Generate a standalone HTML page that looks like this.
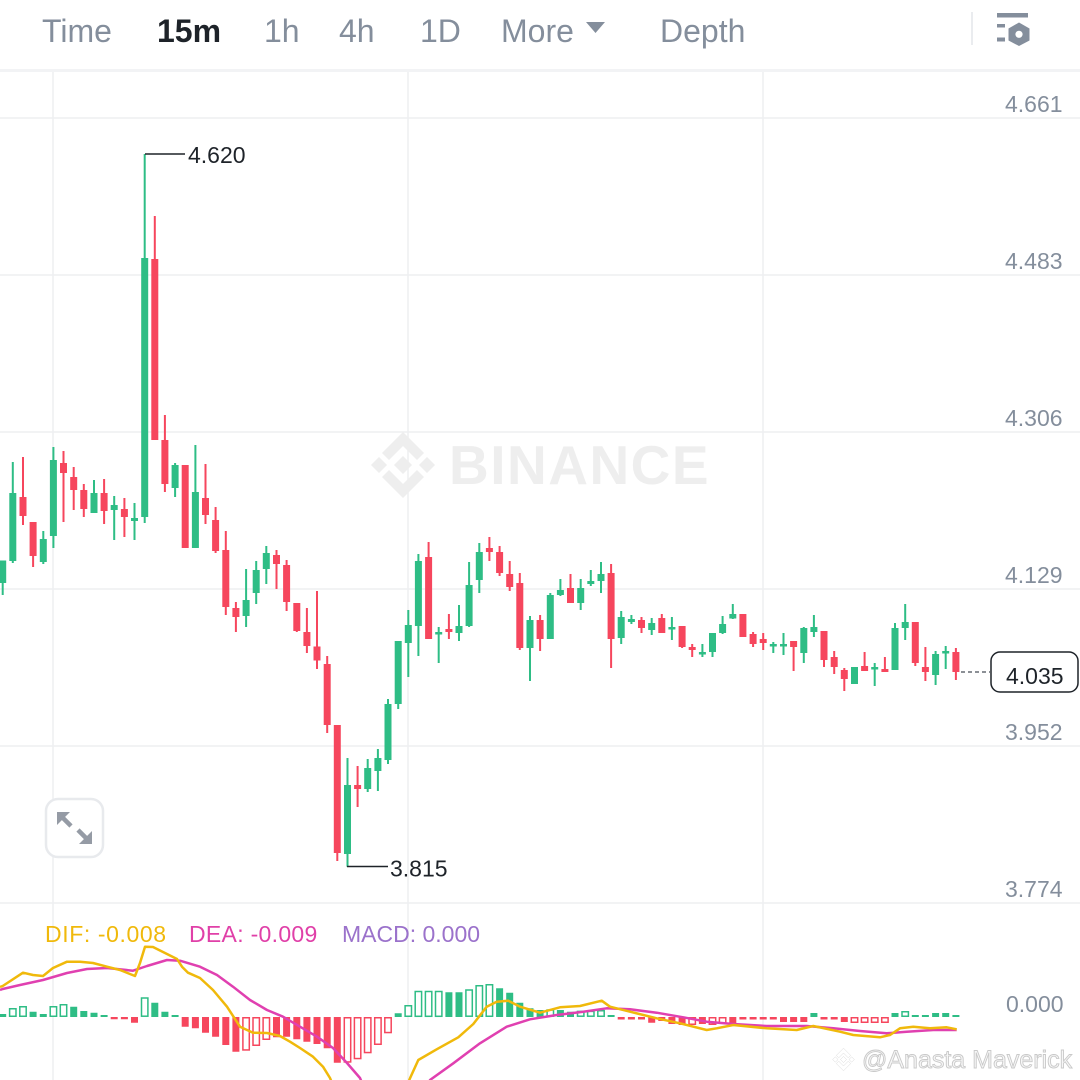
<!DOCTYPE html>
<html>
<head>
<meta charset="utf-8">
<style>
html,body{margin:0;padding:0;background:#fff;}
body{width:1080px;height:1080px;overflow:hidden;}
svg{display:block;}
text{font-family:"Liberation Sans",sans-serif;}
</style>
</head>
<body>
<svg width="1080" height="1080" viewBox="0 0 1080 1080" xmlns="http://www.w3.org/2000/svg">
<rect width="1080" height="1080" fill="#ffffff"/>

<!-- Tabs -->
<g font-size="32" fill="#848e9c">
<text x="42" y="42">Time</text>
<text x="157" y="42" font-weight="bold" fill="#1e2329">15m</text>
<text x="264" y="42">1h</text>
<text x="339" y="42">4h</text>
<text x="420" y="42">1D</text>
<text x="501" y="42">More</text>
<text x="660" y="42">Depth</text>
</g>
<polygon points="586,22 605,22 595.5,33" fill="#848e9c"/>
<rect x="971" y="12" width="2" height="33" fill="#eaecef"/>
<g fill="#848e9c">
<rect x="997" y="13" width="31" height="4.5"/>
<rect x="997" y="24" width="8" height="3.5"/>
<rect x="997" y="37.5" width="8" height="4"/>
<polygon points="1019,22.5 1029.5,28.5 1029.5,40.5 1019,46 1008.5,40.5 1008.5,28.5"/>
</g>
<circle cx="1019" cy="34.3" r="3.6" fill="#fff"/>

<!-- separator -->
<rect x="0" y="69" width="1080" height="3" fill="#f2f3f5"/>

<!-- grid -->
<g stroke="#eeeff1" stroke-width="1.5">
<line x1="0" y1="118" x2="1080" y2="118"/>
<line x1="0" y1="275" x2="1080" y2="275"/>
<line x1="0" y1="432" x2="1080" y2="432"/>
<line x1="0" y1="589" x2="1080" y2="589"/>
<line x1="0" y1="746" x2="1080" y2="746"/>
<line x1="0" y1="903" x2="1080" y2="903"/>
<line x1="53" y1="72" x2="53" y2="1080"/>
<line x1="408" y1="72" x2="408" y2="1080"/>
<line x1="763" y1="72" x2="763" y2="1080"/>
</g>

<!-- BINANCE watermark -->
<g fill="#eeeeee" transform="translate(403,465)">
<polygon points="0,-9 9,0 0,9 -9,0"/>
<polygon points="-24,-8 -16,0 -24,8 -32,0"/>
<polygon points="24,-8 32,0 24,8 16,0"/>
<polygon points="0,-33 21,-12 14,-5 0,-19 -14,-5 -21,-12"/>
<polygon points="0,33 21,12 14,5 0,19 -14,5 -21,12"/>
</g>
<text x="449" y="484" font-size="55" font-weight="bold" fill="#eeeeee" letter-spacing="1.5">BINANCE</text>

<!-- price axis labels -->
<g font-size="23" fill="#848e9c">
<text x="1005" y="112">4.661</text>
<text x="1005" y="269">4.483</text>
<text x="1005" y="426">4.306</text>
<text x="1005" y="583">4.129</text>
<text x="1005" y="740">3.952</text>
<text x="1005" y="897">3.774</text>
<text x="1006" y="1012">0.000</text>
</g>

<!-- candles: wicks -->
<path fill="none" stroke="#2ebd85" stroke-width="2" d="M2.7 560.5V595M12.8 462V563M43.3 531V564M53.4 447V548M94 480V513M114.2 496V540M134.5 503V540M144.7 154V523M175.1 463V497M195.4 445V548M246.1 569V627M256.2 561V604M266.3 546V584M347.5 758V866.7M367.7 759V792M377.9 749V791M388 699V764M398.2 641V709M408.3 610V677M418.4 554V656M438.7 627V663M459 605V641M469.1 562V627M479.3 543V593M530 616V681M550.3 593V639M560.4 579V596M580.7 579V610M590.8 570V586M601 562V593M621.2 611V644M631.4 615V624M651.7 618V635M671.9 617V640M702.4 644V657M712.5 633V657M722.6 616V634M732.8 604V619M773.3 642V653M783.5 633V655M803.8 627V663M813.9 615V637M854.5 667V684M874.7 663V686M895 623V670M905.2 604V640M935.6 651V685M945.7 646V669"/>
<path fill="none" stroke="#2ebd85" stroke-width="7" d="M2.7 560.5V583M12.8 493V561M43.3 539V562M53.4 460V536M94 493V513M114.2 505V510M134.5 518V521M144.7 258V517M175.1 465V488M195.4 492V548M246.1 600V616M256.2 570V593M266.3 553V569M347.5 785V854M367.7 768V789M377.9 758V771M388 704V760M398.2 641V704M408.3 625V643M418.4 561V626M438.7 632V634.5M459 626V633M469.1 585V626M479.3 552V580M530 620V648M550.3 595V639M560.4 590V595M580.7 588V603M590.8 581V584M601 574V581M621.2 617V638M631.4 619V622M651.7 623V630M671.9 627V629.5M702.4 652V654.5M712.5 633V652M722.6 624V633M732.8 614V618.5M773.3 644V646.5M783.5 644V646.5M803.8 628V653M813.9 627V632M854.5 667V684M874.7 667V669.5M895 628V670M905.2 622V628M935.6 654V675M945.7 651V653.5"/>
<path fill="none" stroke="#f6465d" stroke-width="2" d="M23 457V525M33.1 522V567M63.5 451V522M73.7 467V510M83.8 484V517M104.1 479V524M124.4 498V537M154.8 216V440M164.9 415V492M185.2 465V548M205.5 464V524M215.6 507V553M225.8 531V615M235.9 602V632M276.5 550V589M286.6 560V611M296.8 603V632M306.9 608V653M317 591V669M327.2 656V733M337.3 725V861M357.6 766V807M428.6 542V639M448.9 614V639M489.4 537V561M499.6 546V576M509.7 561V591M519.8 573V650M540.1 615V651M570.5 574V603M611.1 564V668M641.5 617V633M661.8 614V633M682.1 626V648M692.2 644V657M742.9 614V637M753.1 632V647M763.2 633V650M793.6 641V671M824 631V667M834.2 651V674M844.3 668V691M864.6 652V671M884.9 657V672M915.3 622V666M925.4 647V681M955.9 648V680"/>
<path fill="none" stroke="#f6465d" stroke-width="7" d="M23 497V516M33.1 522V556M63.5 463V473M73.7 477V490M83.8 490V509M104.1 493V511M124.4 509V517M154.8 259V440M164.9 440V484M185.2 465V548M205.5 498V515M215.6 520V551M225.8 550V607M235.9 608V617M276.5 555V564M286.6 565V602M296.8 603V631M306.9 632V646M317 646.5V660.5M327.2 664V725M337.3 725V853M357.6 785V789M428.6 557V639M448.9 629V632M489.4 548V552M499.6 552V573M509.7 574V587M519.8 583V648M540.1 620V639M570.5 588V603M611.1 573V639M641.5 620V628M661.8 618V633M682.1 626V647M692.2 647V650M742.9 614V637M753.1 634V644M763.2 639V643M793.6 641V647M824 631V660M834.2 657V667M844.3 670V679M864.6 666V671M884.9 669V672M915.3 622V663M925.4 667V672M955.9 652V672"/>

<!-- high / low markers -->
<line x1="145" y1="154" x2="185" y2="154" stroke="#1e2329" stroke-width="1.5"/>
<text x="188" y="163" font-size="23" fill="#1e2329">4.620</text>
<line x1="347" y1="866.5" x2="388" y2="866.5" stroke="#1e2329" stroke-width="1.5"/>
<text x="390" y="876.5" font-size="23" fill="#1e2329">3.815</text>

<!-- last price -->
<line x1="961" y1="672" x2="990" y2="672" stroke="#474d57" stroke-width="1.3" stroke-dasharray="4,3"/>
<rect x="991" y="652" width="87" height="40" rx="9" ry="9" fill="#fff" stroke="#1e2329" stroke-width="1.5"/>
<text x="1006" y="684" font-size="23" fill="#1e2329">4.035</text>

<!-- expand button -->
<rect x="46" y="799" width="57" height="58" rx="12" ry="12" fill="#fff" stroke="#e8eaed" stroke-width="2.5"/>
<g fill="#959ba5" stroke="#959ba5">
<polygon points="57,812 70,812 57,825" stroke="none"/>
<line x1="61" y1="816" x2="71" y2="826" stroke-width="4.5"/>
<polygon points="92,844 79,844 92,831" stroke="none"/>
<line x1="88" y1="840" x2="78" y2="830" stroke-width="4.5"/>
</g>

<!-- MACD legend -->
<g font-size="23">
<text x="45" y="942" fill="#f0b90b" letter-spacing="0.6">DIF: -0.008</text>
<text x="189" y="942" fill="#e040a8" letter-spacing="0.3">DEA: -0.009</text>
<text x="342" y="942" fill="#9b72cb">MACD: 0.000</text>
</g>

<!-- MACD histogram -->
<path fill="none" stroke="#2ebd85" stroke-width="7" d="M2.7 1014V1017M33.1 1011.7V1017M43.3 1014V1017M73.7 1006.7V1017M83.8 1011V1017M94 1012.7V1017M104.1 1015V1017M154.8 1002.7V1017M164.9 1011.7V1017M175.1 1015V1017M398.2 1013.3V1017M448.9 992.3V1017M459 992.3V1017M499.6 988.3V1017M509.7 992.7V1017M519.8 1002.7V1017M530 1008.3V1017M540.1 1010V1017M560.4 1010V1017M570.5 1011.7V1017M611.1 1015V1017M813.9 1013V1017M895 1013V1017M915.3 1015V1017M925.4 1015V1017M935.6 1013V1017M945.7 1013V1017M955.9 1015V1017"/>
<g fill="#fff" stroke="#2ebd85" stroke-width="1.5">
<rect x="9.6" y="1008.75" width="6.4" height="7.5"/>
<rect x="19.8" y="1006.75" width="6.4" height="9.5"/>
<rect x="50.2" y="1006.75" width="6.4" height="9.5"/>
<rect x="60.3" y="1004.75" width="6.4" height="11.5"/>
<rect x="141.5" y="998" width="6.4" height="18.2"/>
<rect x="405.1" y="1005.75" width="6.4" height="10.5"/>
<rect x="415.2" y="991.5" width="6.4" height="24.8"/>
<rect x="425.4" y="991.5" width="6.4" height="24.8"/>
<rect x="435.5" y="991.5" width="6.4" height="24.8"/>
<rect x="465.9" y="990" width="6.4" height="26.2"/>
<rect x="476.1" y="985.75" width="6.4" height="30.5"/>
<rect x="486.2" y="984.75" width="6.4" height="31.5"/>
<rect x="547.1" y="1010" width="6.4" height="6.2"/>
<rect x="577.5" y="1011.4" width="6.4" height="4.8"/>
<rect x="587.6" y="1011.4" width="6.4" height="4.8"/>
<rect x="597.8" y="1010.75" width="6.4" height="5.5"/>
<rect x="902" y="1011.75" width="6.4" height="4.5"/>
</g>
<path fill="none" stroke="#f6465d" stroke-width="7" d="M114.2 1017V1019.3M124.4 1017V1019.3M134.5 1017V1022.7M185.2 1017V1026.7M195.4 1017V1028.3M205.5 1017V1032.7M215.6 1017V1036.7M225.8 1017V1045M235.9 1017V1051.7M276.5 1017V1037.3M286.6 1017V1036.7M296.8 1017V1039.3M306.9 1017V1041.7M317 1017V1044M327.2 1017V1048.3M337.3 1017V1062.7M621.2 1017V1019.5M631.4 1017V1019.5M641.5 1017V1019.5M651.7 1017V1022.7M661.8 1017V1021M671.9 1017V1024M682.1 1017V1025M702.4 1017V1024M732.8 1017V1024M742.9 1017V1019.5M753.1 1017V1019.5M763.2 1017V1019.5M773.3 1017V1019.5M783.5 1017V1022M793.6 1017V1022M803.8 1017V1022M824 1017V1019.5M834.2 1017V1019.5M844.3 1017V1022"/>
<g fill="#fff" stroke="#f6465d" stroke-width="1.5">
<rect x="242.9" y="1017.75" width="6.4" height="32.2"/>
<rect x="253" y="1017.75" width="6.4" height="27.5"/>
<rect x="263.1" y="1017.75" width="6.4" height="21.5"/>
<rect x="344.3" y="1017.75" width="6.4" height="44.2"/>
<rect x="354.4" y="1017.75" width="6.4" height="40.8"/>
<rect x="364.5" y="1017.75" width="6.4" height="34.8"/>
<rect x="374.7" y="1017.75" width="6.4" height="26.5"/>
<rect x="384.8" y="1017.75" width="6.4" height="14.8"/>
<rect x="689" y="1017.75" width="6.4" height="6.5"/>
<rect x="709.3" y="1017.75" width="6.4" height="6.5"/>
<rect x="719.4" y="1017.75" width="6.4" height="5.5"/>
<rect x="851.3" y="1017.75" width="6.4" height="4.5"/>
<rect x="861.4" y="1017.75" width="6.4" height="4.5"/>
<rect x="871.5" y="1017.75" width="6.4" height="4.5"/>
<rect x="881.7" y="1017.75" width="6.4" height="4.5"/>
</g>

<!-- MACD lines -->
<polyline fill="none" stroke="#e040b0" stroke-width="2.5" stroke-linejoin="round" points="0,990 2.7,989 20,985 43,980 67,973 87,969 107,968 133,970.7 147,966 167,960 180,960.7 200,966.7 217,975 233,986.7 250,1000 267,1010 283,1016.7 300,1026.7 317,1036.7 333,1048 347,1063 360,1078 365,1090 425,1090 430,1080 453.3,1063.3 480,1043.3 506.7,1026.7 530,1019.3 556.7,1015 583.3,1011.7 606.7,1008.3 630,1009.3 656.7,1012.7 683.3,1017.3 706.7,1021.7 733.3,1024 766.7,1026 806.7,1026 833.3,1028.3 860,1031 886.7,1033.3 906.7,1031.7 933.3,1030 956.7,1030"/>
<polyline fill="none" stroke="#f0b90b" stroke-width="2.5" stroke-linejoin="round" points="0,987 2.7,986 23,972.7 33,975 43,976 53,968 67,961.7 80,961.7 93,963 107,966.7 120,970 135,976 140,963 145,946.7 153,947 167,954 177,959 182,966.7 188,972.7 200,978 213,990 227,1006.7 240,1026.7 253,1032.7 267,1033 280,1036 290,1041.7 300,1048 313,1056.7 323,1066.7 330,1078 335,1090 405,1090 410,1078.3 418.3,1060 436.7,1049.3 458.3,1037.3 473.3,1024 486.7,1006.7 496.7,1001.7 508.3,1000.7 520,1006.7 540,1012.7 560,1007.3 580,1006 601.7,1000.7 610,1006.7 630,1011.7 656.7,1018.3 680,1023.3 706.7,1030 716.7,1028.3 733.3,1025 766.7,1028.3 796.7,1030 813.3,1026 840,1031.7 853.3,1035 880,1037.3 890,1035 900,1028.3 913.3,1026.7 930,1028.3 946.7,1027.3 956.7,1029.3"/>

<!-- user watermark -->
<g fill="none" stroke="#cfcfcf" stroke-width="1.2" transform="translate(843.5,1059.5) scale(0.34)">
<polygon points="0,-9 9,0 0,9 -9,0"/>
<polygon points="-24,-8 -16,0 -24,8 -32,0"/>
<polygon points="24,-8 32,0 24,8 16,0"/>
<polygon points="0,-33 21,-12 14,-5 0,-19 -14,-5 -21,-12"/>
<polygon points="0,33 21,12 14,5 0,19 -14,5 -21,12"/>
</g>
<text x="862" y="1068" font-size="25" fill="#f7f7f7" stroke="#c9c9c9" stroke-width="0.9">@Anasta Maverick</text>
</svg>
</body>
</html>
